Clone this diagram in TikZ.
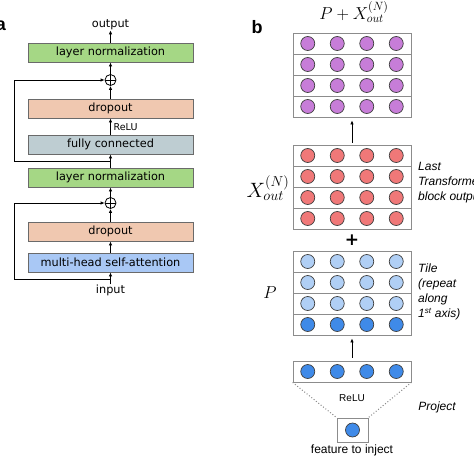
\documentclass[tikz,border=0pt]{standalone}
\usepackage{fontspec}
\newfontfamily\verd{DejaVu Sans}
\newfontfamily\arial{Liberation Sans}
\usetikzlibrary{arrows.meta}
\definecolor{lngreen}{HTML}{A5D785}
\definecolor{dosalmon}{HTML}{F0C8B0}
\definecolor{fcgray}{HTML}{BECDD2}
\definecolor{mhablue}{HTML}{A9C8F5}
\definecolor{boxborder}{HTML}{6A6A6A}
\definecolor{rowborder}{HTML}{8C8C8C}
\definecolor{cpurple}{HTML}{C77DD8}
\definecolor{cred}{HTML}{F07878}
\definecolor{clight}{HTML}{B0CFF5}
\definecolor{cmid}{HTML}{3F8AE8}
\begin{document}
\begin{tikzpicture}[x=1pt,y=-1pt,
  blk/.style={draw=boxborder, line width=0.9pt, minimum width=165pt, minimum height=19pt, inner sep=0pt, font=\verd\fontsize{11.3}{13}\selectfont},
  plusnode/.style={circle, draw, line width=0.8pt, minimum size=11pt, inner sep=0pt,
    path picture={\draw[line width=0.8pt] (path picture bounding box.north) -- (path picture bounding box.south) (path picture bounding box.west) -- (path picture bounding box.east);}},
  arr/.style={line width=1pt, -{Latex[length=4pt,width=3.5pt]}},
  txa/.style={font=\verd\fontsize{11.3}{13}\selectfont, inner sep=0pt},
  rowbox/.style={draw=rowborder, line width=0.8pt, minimum width=118pt, minimum height=21pt, inner sep=0pt},
  dot/.style={circle, draw=black!75, line width=0.7pt, minimum size=14pt, inner sep=0pt},
  sidetxt/.style={font=\arial\itshape\fontsize{12}{15}\selectfont, align=left, inner sep=0pt, anchor=north west},
]
\useasboundingbox (0,0) rectangle (474,474);
% ---------------- panel a ----------------
\node[font=\arial\bfseries\fontsize{18}{20}\selectfont, inner sep=0pt] (labela) at (1,26) {a};
\node[txa] (output) at (110.5,25) {output};
\node[blk, fill=lngreen] (ln1) at (110.5,52.5) {layer normalization};
\node[plusnode] (plus1) at (110.5,80) {};
\node[blk, fill=dosalmon] (do1) at (110.5,108.5) {dropout};
\node[blk, fill=fcgray] (fc) at (110.5,144.5) {fully connected};
\node[blk, fill=lngreen] (ln2) at (110.5,177.5) {layer normalization};
\node[plusnode] (plus2) at (110.5,203) {};
\node[blk, fill=dosalmon] (do2) at (110.5,231.5) {dropout};
\node[blk, fill=mhablue] (mha) at (110.5,262.5) {multi-head self-attention};
\node[txa] (input) at (110.5,290) {input};
\node[font=\verd\fontsize{9.5}{11}\selectfont, inner sep=0pt, anchor=west] (relua) at (113.5,127) {ReLU};

\draw[arr] (input) -- (mha);
\draw[arr] (mha) -- (do2);
\draw[arr] (do2) -- (plus2);
\draw[arr] (plus2) -- (ln2);
\draw[arr] (ln2) -- (fc);
\draw[arr] (fc) -- (do1);
\draw[arr] (do1) -- (plus1);
\draw[arr] (plus1) -- (ln1);
\draw[arr] (ln1) -- (output);

\coordinate (s1) at (110.5,279);
\coordinate (s1l) at (14,279);
\coordinate (s1u) at (14,203);
\draw[arr] (s1) -- (s1l) -- (s1u) -- (plus2);
\coordinate (s2) at (110.5,161);
\coordinate (s2l) at (14,161);
\coordinate (s2u) at (14,80);
\draw[arr] (s2) -- (s2l) -- (s2u) -- (plus1);

% ---------------- panel b ----------------
\node[font=\arial\bfseries\fontsize{18}{20}\selectfont, inner sep=0pt] (labelb) at (257,27) {b};
\node[inner sep=0pt, font=\fontsize{18}{20}\selectfont] (title) at (354,12) {$P + X^{(N)}_{out}$};

\foreach \r/\y in {1/43.5,2/64.5,3/85.5,4/106.5} {
  \node[rowbox] (pu\r) at (352,\y) {};
  \foreach \c/\x in {1/307.75,2/337.25,3/366.75,4/396.25}
    \node[dot, fill=cpurple] (pu\r-\c) at (\x,\y) {};
}
\foreach \r/\y in {1/155.5,2/176.5,3/197.5,4/218.5} {
  \node[rowbox] (re\r) at (352,\y) {};
  \foreach \c/\x in {1/307.75,2/337.25,3/366.75,4/396.25}
    \node[dot, fill=cred] (re\r-\c) at (\x,\y) {};
}
\foreach \r/\y/\col in {1/261.5/clight,2/282.5/clight,3/303.5/clight,4/324.5/cmid} {
  \node[rowbox] (bl\r) at (352,\y) {};
  \foreach \c/\x in {1/307.75,2/337.25,3/366.75,4/396.25}
    \node[dot, fill=\col] (bl\r-\c) at (\x,\y) {};
}
\node[rowbox] (proj) at (352,371.5) {};
\foreach \c/\x in {1/307.75,2/337.25,3/366.75,4/396.25}
  \node[dot, fill=cmid] (pr-\c) at (\x,371.5) {};

\node[draw=rowborder, line width=0.8pt, minimum width=31pt, minimum height=24pt, inner sep=0pt] (feat) at (352.5,430) {};
\node[dot, fill=cmid] (featdot) at (352.5,430) {};

\draw[arr, shorten <=2pt, shorten >=3pt] (re1.north) -- (pu4.south);
\draw[arr, shorten <=3pt, shorten >=3pt] (proj.north) -- (bl4.south);
\node[font=\verd\bfseries\fontsize{17}{18}\selectfont, inner sep=0pt] (plusb) at (352,240) {+};

\draw[rowborder, line width=1pt, dotted] (proj.south west) -- (feat.north west);
\draw[rowborder, line width=1pt, dotted] (proj.south east) -- (feat.north east);

\node[inner sep=0pt, font=\fontsize{20}{22}\selectfont] (xlab) at (268,188) {$X^{(N)}_{out}$};
\node[inner sep=0pt, font=\fontsize{19}{21}\selectfont] (plab) at (270,293) {$P$};

\node[sidetxt] (lasttxt) at (418,162) {Last\\Transformer\\block output};
\node[sidetxt] (tiletxt) at (418,264) {Tile\\(repeat\\along\\1\textsuperscript{st} axis)};
\node[font=\arial\itshape\fontsize{12}{14}\selectfont, inner sep=0pt] (projtxt) at (437,407) {Project};
\node[font=\arial\fontsize{10}{12}\selectfont, inner sep=0pt] (relub) at (352,398) {ReLU};
\node[font=\arial\fontsize{12}{14}\selectfont, inner sep=0pt] (feattxt) at (352,450) {feature to inject};
\end{tikzpicture}
\end{document}
